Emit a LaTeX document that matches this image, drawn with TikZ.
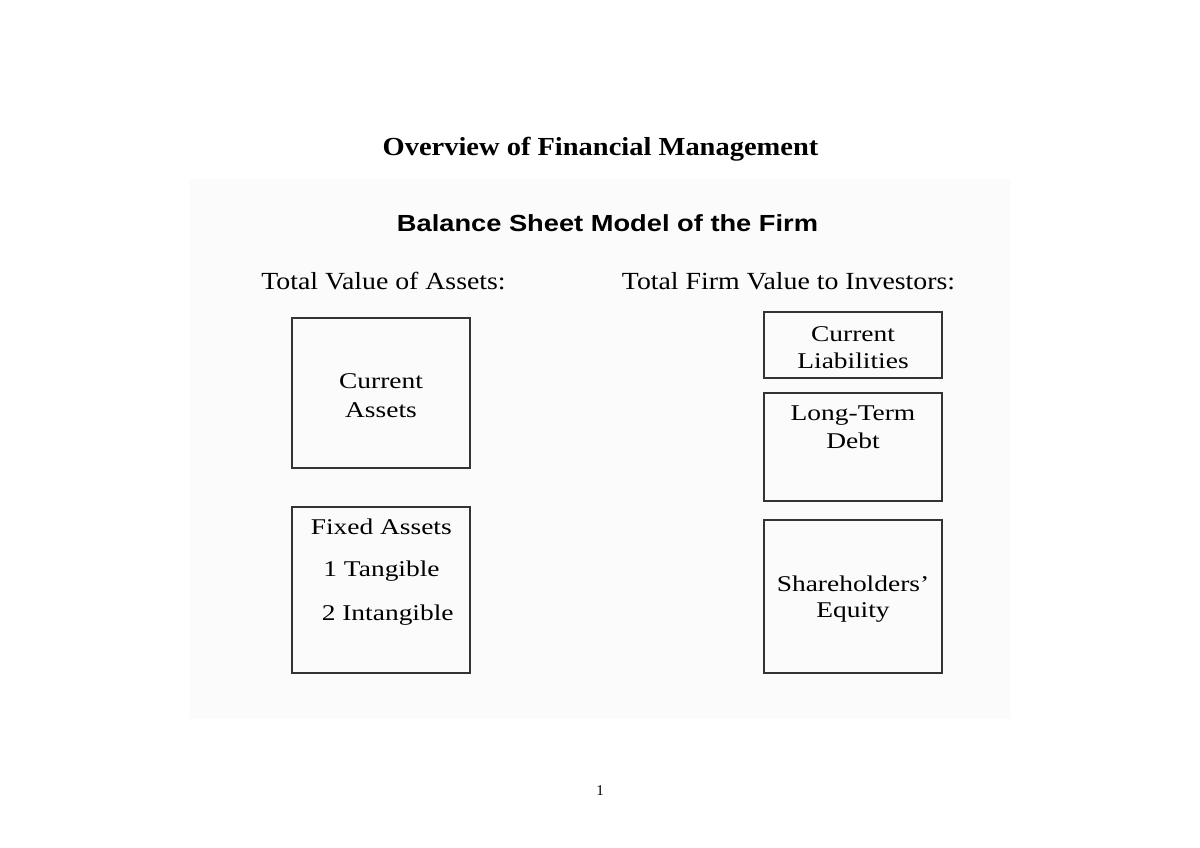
\documentclass[tikz,border=0pt]{standalone}
\usepackage{fontspec}
\setmainfont{Liberation Serif}
\newfontfamily\titlefont[FakeStretch=1.095]{Liberation Serif}
\newfontfamily\headfont[FakeStretch=1.17]{Liberation Sans}
\newfontfamily\labelfont[FakeStretch=1.13]{Liberation Serif}
\newfontfamily\boxfont[FakeStretch=1.22]{Liberation Serif}
\tikzset{
  txt/.style={anchor=base, inner sep=0pt, outer sep=0pt},
  titletxt/.style={txt, font=\titlefont\bfseries\fontsize{26}{30}\selectfont},
  headtxt/.style={txt, font=\headfont\bfseries\fontsize{23.3}{28}\selectfont},
  labeltxt/.style={txt, font=\labelfont\fontsize{24.6}{29}\selectfont},
  boxtxt/.style={txt, font=\boxfont\fontsize{22.5}{27}\selectfont},
  pagetxt/.style={txt, font=\fontsize{15}{18}\selectfont},
  itembox/.style={draw=black!80, line width=1.2pt, inner sep=0pt, outer sep=0pt, minimum width=178pt},
}
\definecolor{slidebg}{HTML}{FBFBFB}
\begin{document}
\begin{tikzpicture}[x=1pt, y=-1pt]
\useasboundingbox (0,0) rectangle (1200,848);
\fill[white] (0,0) rectangle (1200,848);
\fill[slidebg] (190,179) rectangle (1010,719);

\node[titletxt] (title) at (600.5,156) {Overview of Financial Management};
\node[headtxt] (head) at (607.5,231) {Balance Sheet Model of the Firm};
\node[labeltxt] (lassets) at (383.5,289) {Total Value of Assets:};
\node[labeltxt] (linvest) at (788.5,289) {Total Firm Value to Investors:};

\node[itembox, minimum height=150pt] (ca) at (381,393) {};
\node[itembox, minimum height=166pt] (fa) at (381,590) {};
\node[itembox, minimum height=66pt] (cl) at (853,345) {};
\node[itembox, minimum height=108pt] (ltd) at (853,447) {};
\node[itembox, minimum height=153pt] (se) at (853,596.5) {};

\node[boxtxt] (ca1) at (381,388.5) {Current};
\node[boxtxt] (ca2) at (381,417) {Assets};

\node[boxtxt] (fa1) at (381.3,534.3) {Fixed Assets};
\node[boxtxt] (fa2) at (381.5,576.7) {1 Tangible};
\node[boxtxt] (fa3) at (387.7,620) {2 Intangible};

\node[boxtxt] (cl1) at (853,341) {Current};
\node[boxtxt] (cl2) at (853,368.5) {Liabilities};

\node[boxtxt] (ltd1) at (853,420.7) {Long-Term};
\node[boxtxt] (ltd2) at (853,448.3) {Debt};

\node[boxtxt] (se1) at (853,591) {Shareholders’};
\node[boxtxt] (se2) at (853,617) {Equity};

\node[pagetxt] (page) at (600,795) {1};
\end{tikzpicture}
\end{document}
